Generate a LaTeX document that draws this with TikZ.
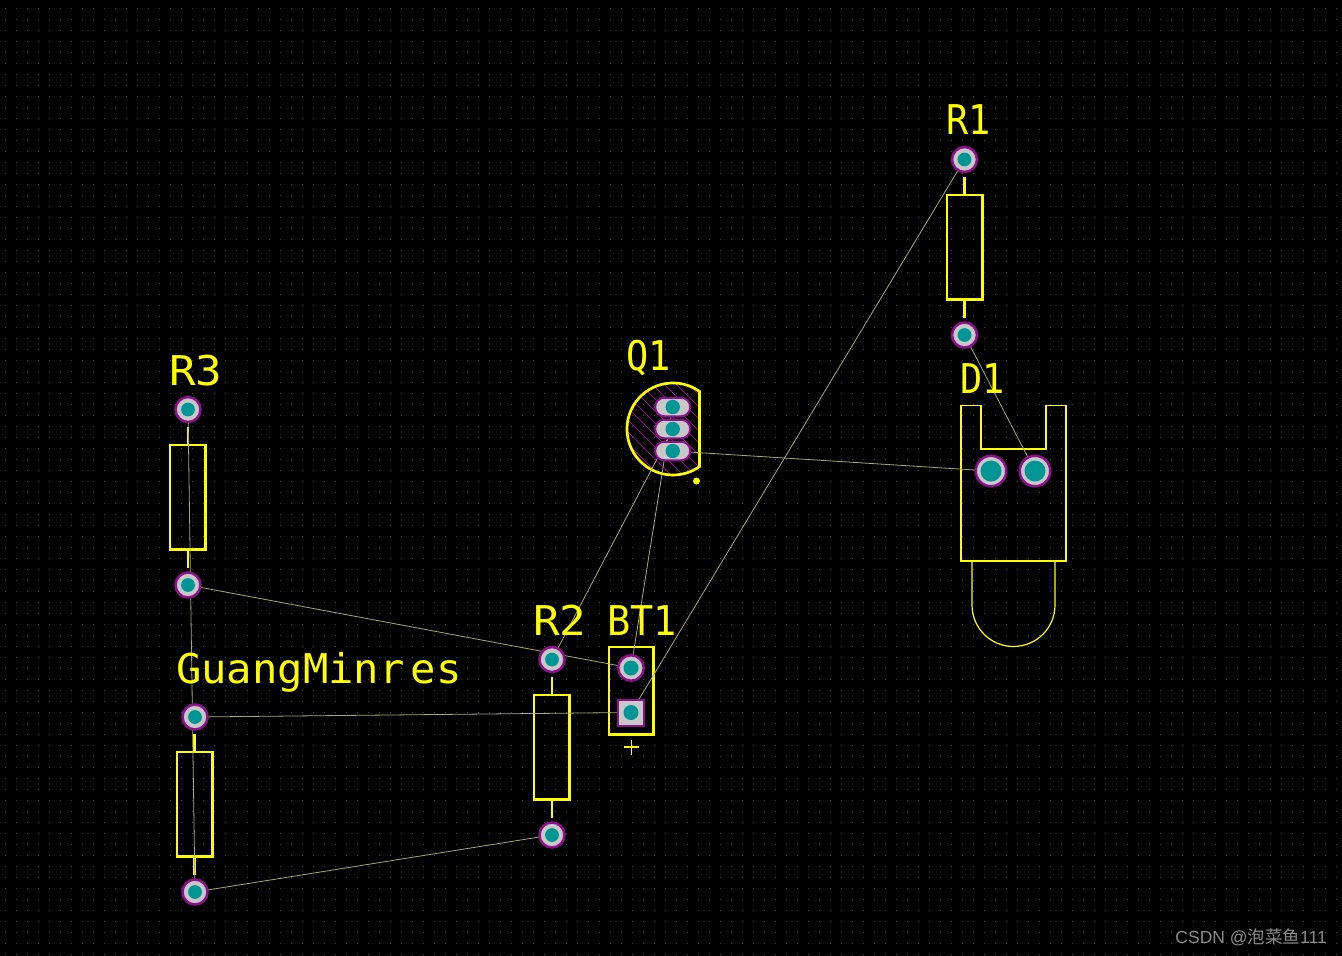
\documentclass[tikz,border=0pt]{standalone}
\usepackage{fontspec}
\newfontfamily\silkfont{DejaVu Sans Mono}
\newfontfamily\cjk{Noto Sans CJK SC}
\newfontfamily\wmfont{Liberation Sans}
\definecolor{silk}{HTML}{FFFF00}
\definecolor{padring}{HTML}{8F0F8F}
\definecolor{padgrey}{HTML}{C8C8C8}
\definecolor{holecol}{HTML}{009696}
\definecolor{wire}{HTML}{A8A880}
\definecolor{griddot}{HTML}{484848}
\definecolor{hatch}{HTML}{D000D0}
\pgfdeclarelayer{silklayer}
\pgfdeclarelayer{wirelayer}
\pgfsetlayers{silklayer,wirelayer,main}
\newcommand{\sx}[2]{\scalebox{#1}[1]{#2}}
\tikzset{
  x=1pt,y=-1pt,
  padbase/.style={inner sep=0pt,outer sep=0pt,draw=padring,fill=padgrey},
  drillhole/.style={path picture={\fill[holecol] (path picture bounding box.center) circle (#1);}},
  thpad/.style={padbase,circle,minimum size=25pt,line width=2.5pt,drillhole=6.9pt},
  bigpad/.style={padbase,circle,minimum size=30.5pt,line width=2.5pt,drillhole=10.5pt},
  btpad/.style={padbase,circle,minimum size=25.5pt,line width=2.5pt,drillhole=7.5pt},
  sqpad/.style={padbase,rectangle,minimum size=26pt,line width=2pt,drillhole=7.5pt},
  ovalpad/.style={padbase,rectangle,rounded corners=9pt,minimum width=35pt,minimum height=18.5pt,line width=2pt,drillhole=7.2pt},
  silkline/.style={draw=silk,line width=2.7pt},
  silkthin/.style={draw=silk,line width=1.2pt},
  rat/.style={draw=wire,line width=0.8pt},
  lab/.style={text=silk,anchor=base west,inner sep=0pt,outer sep=0pt,font=\silkfont\fontsize{41}{41}\selectfont}
}
\begin{document}
\begin{tikzpicture}
\useasboundingbox (0,0) rectangle (1342,956);
\begin{pgfonlayer}{silklayer}
\fill[black] (0,0) rectangle (1342,956);
\foreach \j in {0,...,86} {
  \draw[griddot,line width=1pt,dash pattern=on 1pt off 10pt] (4.5,{8+11*\j}) -- (1342,{8+11*\j});
}
% resistors
\draw[silkline] (947,195) rectangle (982.7,299.7);
\draw[silkline] (964.8,177) -- (964.8,195) (964.8,300) -- (964.8,318);
\draw[silkline] (170,445) rectangle (205.7,549.7);
\draw[silkline] (188,427) -- (188,445) (188,550) -- (188,568);
\draw[silkline] (534,695) rectangle (569.7,799.7);
\draw[silkline] (552,677) -- (552,695) (552,800) -- (552,818);
\draw[silkline] (177,752) rectangle (212.7,856.7);
\draw[silkline] (194.8,734) -- (194.8,752) (194.8,857) -- (194.8,875);
% battery
\draw[silkline] (609,647) rectangle (653.7,734.7);
\draw[silkthin] (624,747) -- (639,747) (631.5,739.5) -- (631.5,754.5);
% transistor
\begin{scope}
\clip (699.5,391.4) arc[start angle=-54.8,end angle=-305.2,radius=46] -- cycle;
\foreach \k in {-12,...,12} {
  \draw[hatch,line width=0.4pt] ({673+12*\k-60},369) -- ++(120,120);
}
\end{scope}
\draw[silkline] (699.5,391.4) arc[start angle=-54.8,end angle=-305.2,radius=46] -- cycle;
\fill[silk] (696.5,481) circle (3.5);
% diode
\draw[silkthin] (961,561) -- (961,405.5) -- (981,405.5) -- (981,449) -- (1046,449) -- (1046,405.5) -- (1066,405.5) -- (1066,561) -- cycle;
\draw[silkthin] (972,561) -- (972,605) arc[start angle=180,end angle=0,radius=41.5] -- (1055,561);
\end{pgfonlayer}
% pads
\node[thpad] (r1a) at (964.5,159.5) {};
\node[thpad] (r1b) at (964.5,335) {};
\node[thpad] (r3a) at (188,409.5) {};
\node[thpad] (r3b) at (188,585) {};
\node[thpad] (r2a) at (552,659.5) {};
\node[thpad] (r2b) at (552,835) {};
\node[thpad] (gma) at (195,717) {};
\node[thpad] (gmb) at (195,892) {};
\node[btpad] (bta) at (631,668) {};
\node[sqpad] (btb) at (631,712.5) {};
\node[ovalpad] (qa) at (672.7,407) {};
\node[ovalpad] (qb) at (672.7,429) {};
\node[ovalpad] (qc) at (672.7,451) {};
\node[bigpad] (da) at (991,471) {};
\node[bigpad] (db) at (1035,471) {};
% ratsnest
\begin{pgfonlayer}{wirelayer}
\draw[rat] (r1a.center) -- (btb.center);
\draw[rat] (r1b.center) -- (db.center);
\draw[rat] (qc.center) -- (da.center);
\draw[rat] (qb.center) -- (r2a.center);
\draw[rat] (qa.center) -- (bta.center);
\draw[rat] (r3b.center) -- (bta.center);
\draw[rat] (r3a.center) -- (gmb.center);
\draw[rat] (gma.center) -- (btb.center);
\draw[rat] (gmb.center) -- (r2b.center);
\end{pgfonlayer}
% labels
\node[lab] (t1) at (946,134) {\sx{0.9}{R1}};
\node[lab] (t2) at (169,385) {\sx{1.08}{R3}};
\node[lab] (t3) at (626,370) {\sx{0.9}{Q1}};
\node[lab] (t4) at (960,393) {\sx{0.9}{D1}};
\node[lab] (t5) at (533,635) {\sx{1.08}{R2}};
\node[lab] (t6) at (607.5,635) {\sx{0.94}{BT1}};
\node[lab] (t7) at (176,683) {\sx{1.03}{GuangMinr\kern6pt es}};
\node[text=white!55!black,anchor=base east,inner sep=0pt,font=\fontsize{17.5}{18}\selectfont] (wm) at (1327,943) {\wmfont CSDN @\cjk 泡菜鱼\wmfont 111};
\end{tikzpicture}
\end{document}
